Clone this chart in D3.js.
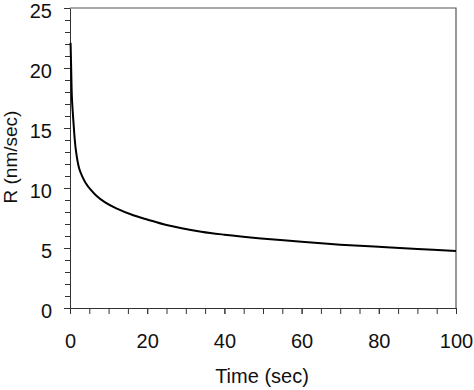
<!DOCTYPE html>
<html>
<head>
  <meta http-equiv="Content-Type" content="text/html;charset=utf-8">
  <title>R vs Time</title>
  <script src="https://d3js.org/d3.v7.min.js"></script>
  <style type="text/css">
    body { margin: 0; background: #fff; }
    text { font-family: Arial, "Liberation Sans", sans-serif; fill: #111; }
    .axis path, .axis line { stroke: #333; stroke-width: 1px; }
    .frame { stroke: #555; stroke-width: 1.2px; fill: none; }
  </style>
</head>
<body>
  <svg width="474" height="390"></svg>
  <script type='text/javascript'>
    // curve: time (sec), R (nm/sec)
    const times = [0.15, 0.3, 0.5, 0.85, 1.5, 2.4, 3.2, 4.1, 5.3, 6.7, 9, 12, 16.4, 20, 25, 34, 40, 49.5, 60, 70, 80, 90, 100];
    const rates = [22.1, 20.0, 17.5, 15.7, 13.2, 11.6, 10.95, 10.4, 9.88, 9.4, 8.82, 8.3, 7.73, 7.38, 6.91, 6.36, 6.11, 5.8, 5.52, 5.28, 5.1, 4.92, 4.75];

    const xTicks = [0, 20, 40, 60, 80, 100];
    const yTicks = [0, 5, 10, 15, 20, 25];
    const xMinor = d3.range(0, 101, 5);
    const yMinor = d3.range(0, 26, 1);

    const svg = d3.select('svg');
    const mLeft = 70, mRight = 456, mTop = 8, mBottom = 308;

    const x = d3.scaleLinear().domain([0, 100]).range([mLeft, mRight]);
    const y = d3.scaleLinear().domain([0, 25]).range([mBottom, mTop]);

    // frame: top and right edges
    svg.append('path')
      .attr('class', 'frame')
      .attr('d', `M${mLeft},${mTop}H${mRight}V${mBottom}`);

    // minor ticks
    svg.append('g')
      .attr('class', 'axis')
      .attr('transform', `translate(0,${mBottom})`)
      .call(d3.axisBottom(x).tickValues(xMinor).tickSize(6).tickFormat(''))
      .select('.domain').remove();
    svg.append('g')
      .attr('class', 'axis')
      .attr('transform', `translate(${mLeft},0)`)
      .call(d3.axisLeft(y).tickValues(yMinor).tickSize(5).tickFormat(''))
      .select('.domain').remove();

    // major axes
    const xAxis = svg.append('g')
      .attr('class', 'axis')
      .attr('transform', `translate(0,${mBottom})`)
      .call(d3.axisBottom(x).tickValues(xTicks).tickSize(6).tickPadding(20).tickSizeOuter(0));
    xAxis.selectAll('text').style('font-size', '20px');

    const yAxis = svg.append('g')
      .attr('class', 'axis')
      .attr('transform', `translate(${mLeft},0)`)
      .call(d3.axisLeft(y).tickValues(yTicks).tickSize(6).tickPadding(12).tickSizeOuter(0));
    yAxis.selectAll('text').style('font-size', '20px').attr('dy', '0.45em');

    // axis titles
    svg.append('text')
      .attr('x', 262).attr('y', 383)
      .attr('text-anchor', 'middle')
      .style('font-size', '20px')
      .text('Time (sec)');
    svg.append('text')
      .attr('transform', 'translate(17,157) rotate(-90)')
      .attr('text-anchor', 'middle')
      .style('font-size', '19px')
      .text('R (nm/sec)');

    // the curve
    const line = d3.line()
      .x((d, i) => x(times[i]))
      .y((d) => y(d))
      .curve(d3.curveCatmullRom.alpha(0.5));

    svg.append('path')
      .datum(rates)
      .attr('d', line)
      .attr('fill', 'none')
      .attr('stroke', '#000')
      .attr('stroke-width', 2);
  </script>
</body>
</html>
